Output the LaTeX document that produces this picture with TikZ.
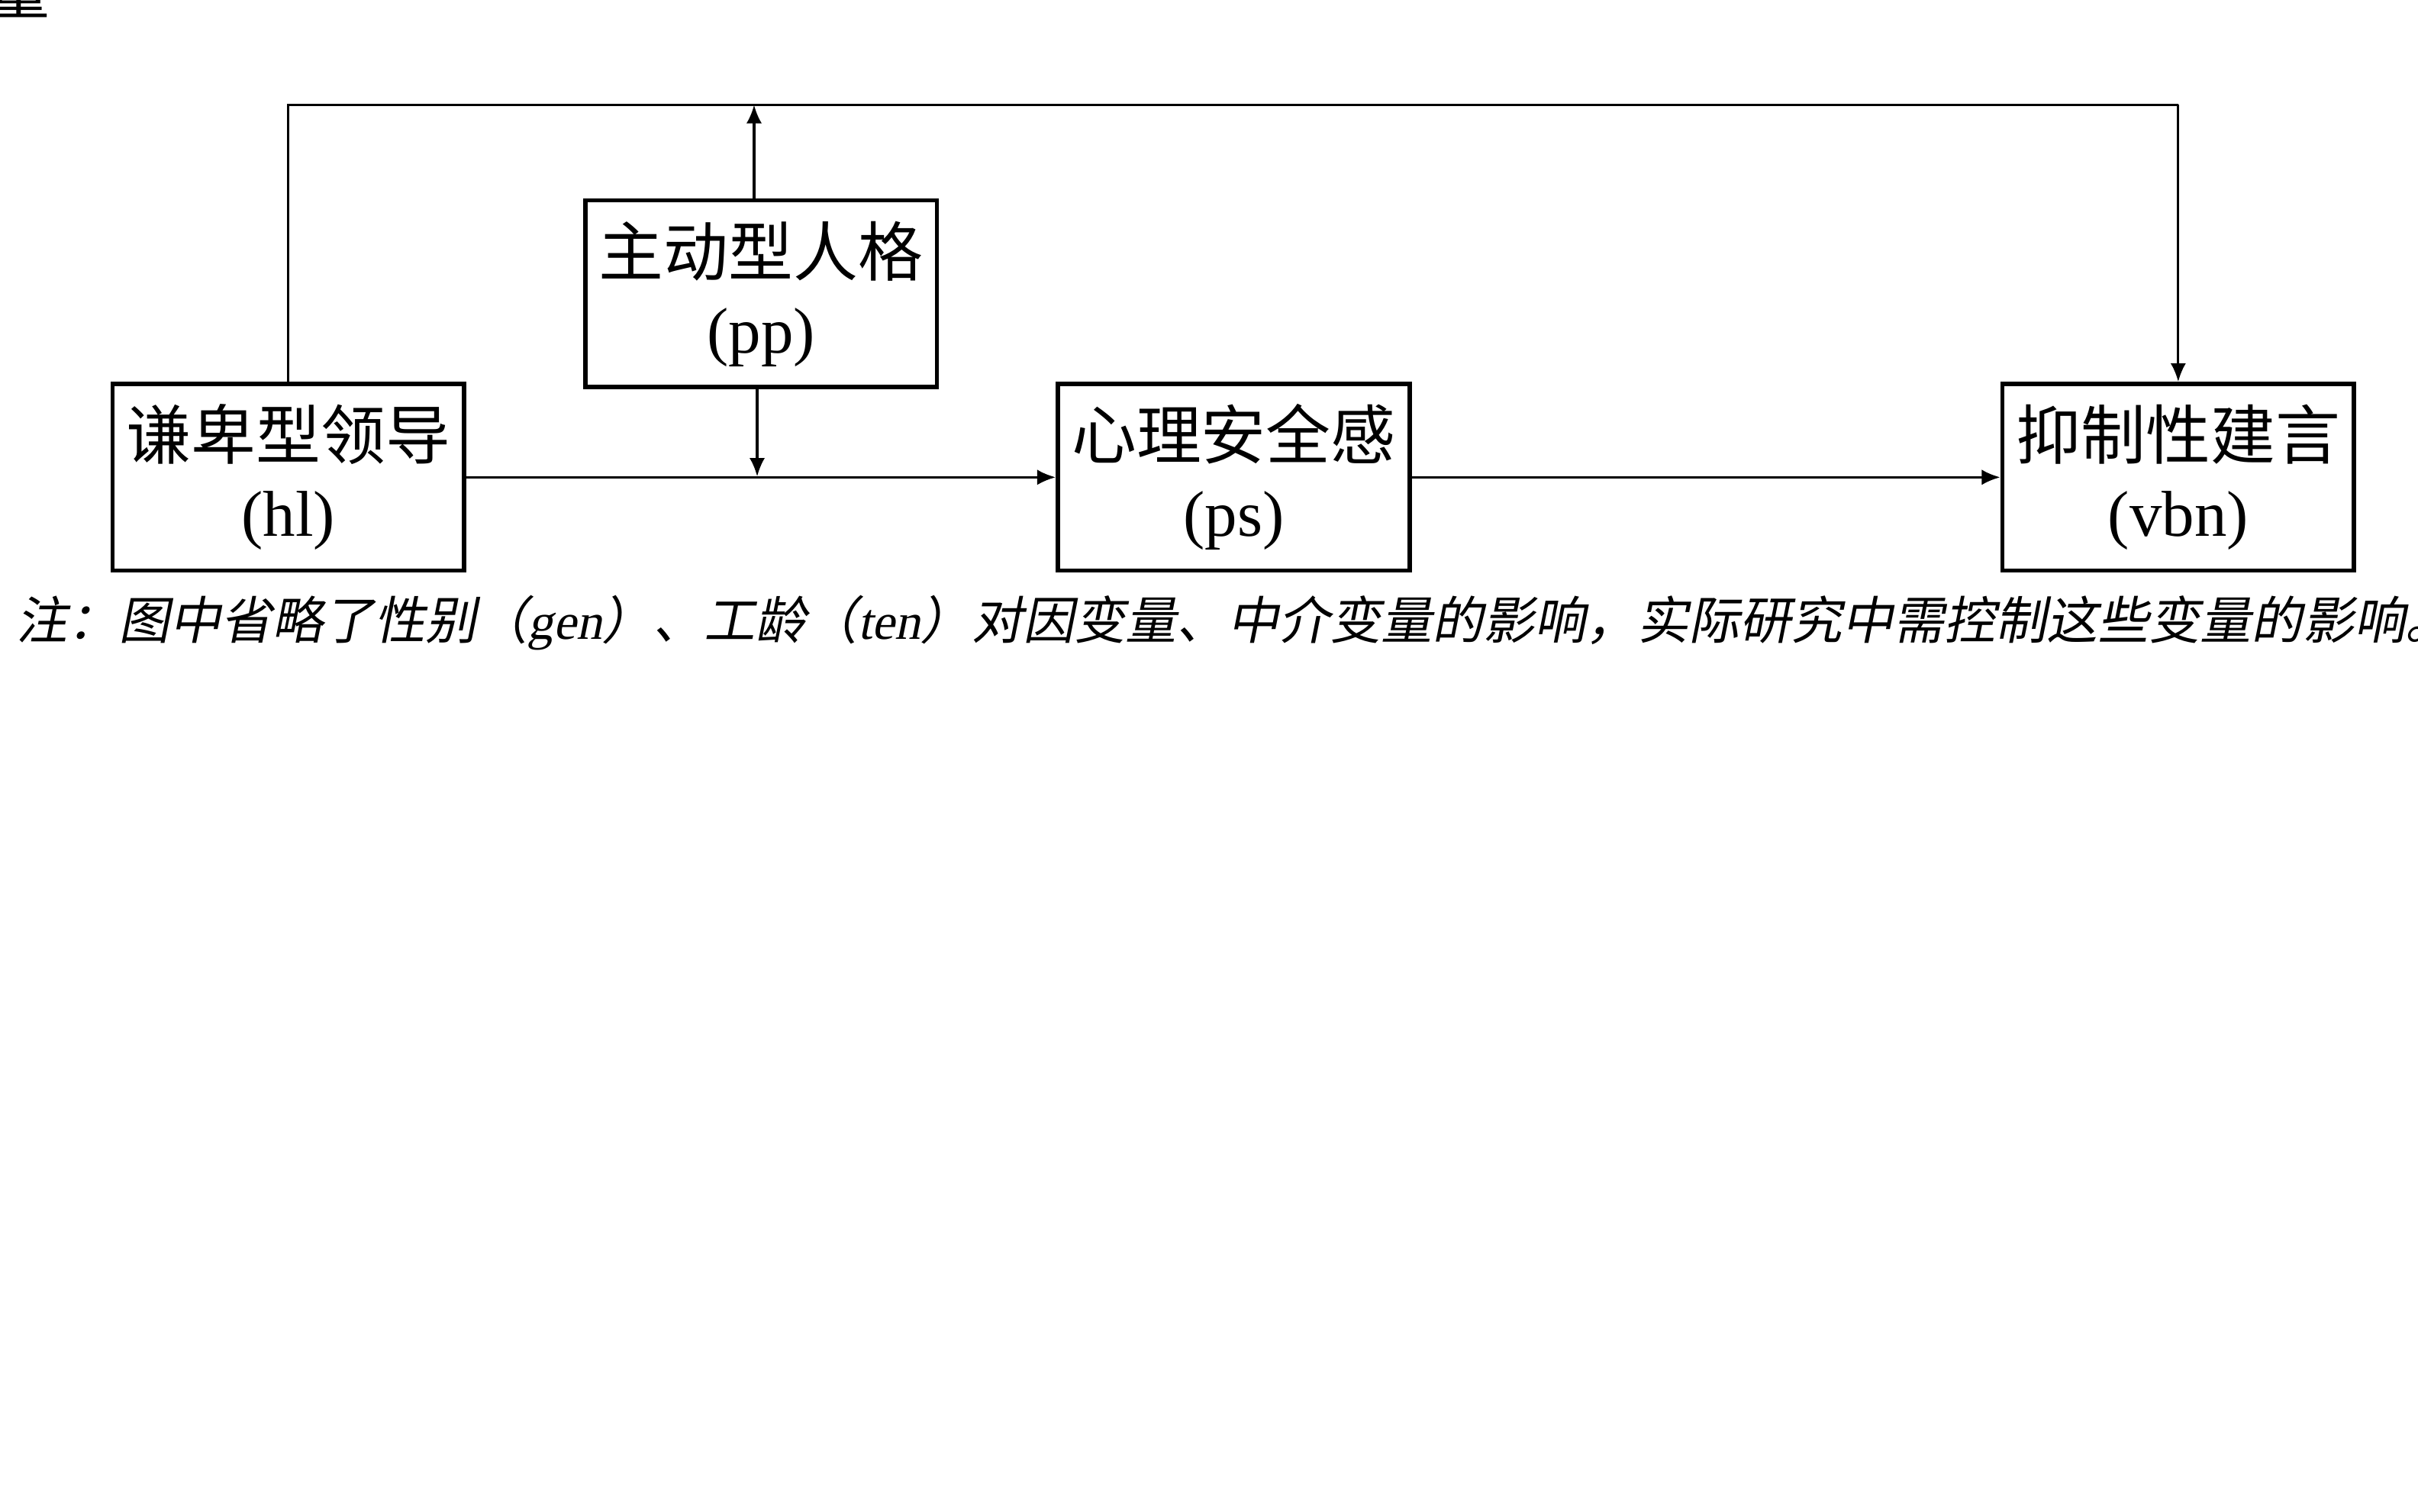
\documentclass[tikz,border=0pt]{standalone}
\usepackage{fontspec}
\setmainfont{Liberation Serif}
\newfontfamily\cjk{Noto Sans CJK SC}
\newfontfamily\cjkslant{Noto Sans CJK SC}[FakeSlant=0.2]
\newfontfamily\latslant{Liberation Serif}[FakeSlant=0.2]
\usetikzlibrary{arrows.meta}
\tikzset{
  varbox/.style={draw, line width=1.4pt, minimum width=114, minimum height=60.5, inner sep=0pt, align=center, font=\fontsize{21}{25}\selectfont},
  link/.style={thick, -{Latex[length=6pt,width=5pt]}},
  plain/.style={thick}
}
\newcommand{\cn}[1]{{\cjk #1}}
\begin{document}
\begin{tikzpicture}[x=0.5pt,y=-0.5pt]
\useasboundingbox (0,0) rectangle (1568,980);

% cut-off heading
\begin{scope}
\clip (0,0) rectangle (1568,980);
\node[anchor=south west, inner sep=0pt, font=\fontsize{20}{24}\selectfont] (head) at (-8,12) {\cn{量}};
\end{scope}

% variables
\node[varbox] (hl) at (187,309.5) {\cn{谦卑型领导}\\(hl)};
\node[varbox] (pp) at (493.5,190.5) {\cn{主动型人格}\\(pp)};
\node[varbox] (ps) at (800,309.5) {\cn{心理安全感}\\(ps)};
\node[varbox] (vbn) at (1412.5,309.5) {\cn{抑制性建言}\\(vbn)};

% links
\coordinate (tl) at (187,68);
\coordinate (tm) at (489,68);
\coordinate (mm) at (491,309);
\draw[plain] (hl.north) -- (tl) -- (vbn.north |- tl);
\draw[link] (vbn.north |- tl) -- (vbn.north);
\draw[link] (pp.north -| tm) -- (tm);
\draw[link] (pp.south -| mm) -- (mm);
\draw[link] (hl.east) -- (ps.west);
\draw[link] (ps.east) -- (vbn.west);

% note
\node[anchor=west, inner sep=0pt, font=\fontsize{16.6}{20}\selectfont] (note) at (10,404)
  {\cjkslant 注：图中省略了性别（{\latslant gen}）、工龄（{\latslant ten}）对因变量、中介变量的影响，实际研究中需控制这些变量的影响。};
\end{tikzpicture}
\end{document}
